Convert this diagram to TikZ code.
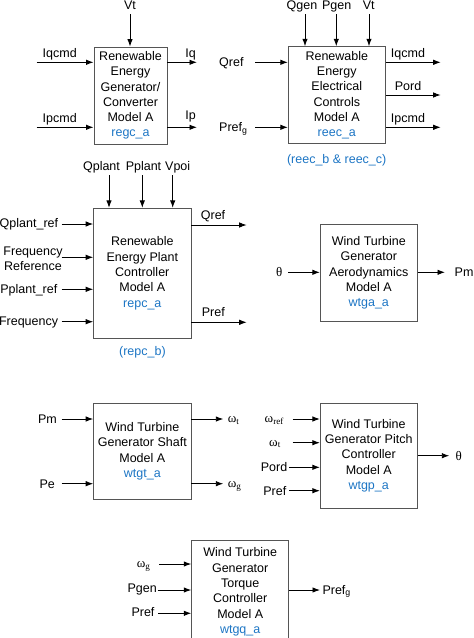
\documentclass[tikz,border=0pt]{standalone}
\usepackage{fontspec}
\setmainfont{Liberation Sans}
\newfontfamily\grk{Liberation Serif}
\usetikzlibrary{arrows.meta}
\definecolor{codeblue}{RGB}{28,117,196}
\definecolor{boxgray}{RGB}{85,85,85}
\begin{document}
\begin{tikzpicture}[x=1pt,y=-1pt,
  blk/.style={draw=boxgray,line width=0.9pt,rectangle,inner sep=0pt,align=center,font=\fontsize{12.5}{15.3}\selectfont},
  arr/.style={line width=0.9pt,-{Latex[length=7.5pt,width=5.5pt]}},
  lbl/.style={inner sep=0pt,anchor=base,font=\fontsize{12.5}{15}\selectfont},
  lblw/.style={lbl,anchor=base west},
  lble/.style={lbl,anchor=base east},
  gk/.style={font=\grk\fontsize{13}{15}\selectfont},
  blu/.style={text=codeblue}]
\useasboundingbox (0,0) rectangle (474,638);
\clip (0,0) rectangle (474,638);

% ---------------- Box 1: regc_a
\node[blk,minimum width=73pt,minimum height=97pt] (b1) at (130.5,95.5)
  {Renewable\\Energy\\Generator/\\Converter\\Model A\\\textcolor{codeblue}{regc\_a}};
\coordinate (b1vt) at (130,14);
\coordinate (b1iq) at (36.7,62.3);
\coordinate (b1ip) at (36.7,127.3);
\coordinate (b1oq) at (197,62.3);
\coordinate (b1op) at (197,127.3);
\draw[arr] (b1vt) -- (b1vt |- b1.north);
\draw[arr] (b1iq) -- (b1iq -| b1.west);
\draw[arr] (b1ip) -- (b1ip -| b1.west);
\draw[arr] (b1.east |- b1oq) -- (b1oq);
\draw[arr] (b1.east |- b1op) -- (b1op);
\node[lbl] (t1vt) at (130,9) {Vt};
\node[lbl] (t1iq) at (59.7,57.5) {Iqcmd};
\node[lbl] (t1ip) at (59.7,122.5) {Ipcmd};
\node[lbl] (t1oq) at (190.7,57.5) {Iq};
\node[lbl] (t1op) at (190.7,119.5) {Ip};

% ---------------- Box 2: reec_a
\node[blk,minimum width=97pt,minimum height=97pt] (b2) at (336.8,95.2)
  {Renewable\\Energy\\Electrical\\Controls\\Model A\\\textcolor{codeblue}{reec\_a}};
\coordinate (b2qg) at (305,14);
\coordinate (b2pg) at (336.3,14);
\coordinate (b2vt) at (369,14);
\coordinate (b2qr) at (255,62.3);
\coordinate (b2pr) at (255,127.3);
\coordinate (b2oq) at (440.7,62.3);
\coordinate (b2od) at (440.7,95);
\coordinate (b2op) at (440.7,127.3);
\draw[arr] (b2qg) -- (b2qg |- b2.north);
\draw[arr] (b2pg) -- (b2pg |- b2.north);
\draw[arr] (b2vt) -- (b2vt |- b2.north);
\draw[arr] (b2qr) -- (b2qr -| b2.west);
\draw[arr] (b2pr) -- (b2pr -| b2.west);
\draw[arr] (b2.east |- b2oq) -- (b2oq);
\draw[arr] (b2.east |- b2od) -- (b2od);
\draw[arr] (b2.east |- b2op) -- (b2op);
\node[lbl] (t2qg) at (302,9) {Qgen};
\node[lbl] (t2pg) at (336.7,9) {Pgen};
\node[lbl] (t2vt) at (368.7,9) {Vt};
\node[lblw] (t2qr) at (219,66.5) {Qref};
\node[lblw] (t2pr) at (219,131.5) {Pref\textsubscript{g}};
\node[lbl] (t2oq) at (408,57.3) {Iqcmd};
\node[lbl] (t2od) at (408,90) {Pord};
\node[lbl] (t2op) at (408,122.3) {Ipcmd};
\node[lbl,blu] (t2v) at (336.7,163.5) {(reec\_b \& reec\_c)};

% ---------------- Box 3: repc_a
\node[blk,minimum width=97.3pt,minimum height=130pt] (b3) at (142.3,273.3)
  {Renewable\\Energy Plant\\Controller\\Model A\\\textcolor{codeblue}{repc\_a}};
\coordinate (b3qp) at (109,175);
\coordinate (b3pp) at (142.3,175);
\coordinate (b3vp) at (172.7,175);
\coordinate (b3qr) at (61.7,224);
\coordinate (b3fr) at (61.7,257.3);
\coordinate (b3pr) at (61.7,289.3);
\coordinate (b3fq) at (61.7,321.7);
\coordinate (b3oq) at (246.7,225);
\coordinate (b3op) at (246.7,322.3);
\draw[arr] (b3qp) -- (b3qp |- b3.north);
\draw[arr] (b3pp) -- (b3pp |- b3.north);
\draw[arr] (b3vp) -- (b3vp |- b3.north);
\draw[arr] (b3qr) -- (b3qr -| b3.west);
\draw[arr] (b3fr) -- (b3fr -| b3.west);
\draw[arr] (b3pr) -- (b3pr -| b3.west);
\draw[arr] (b3fq) -- (b3fq -| b3.west);
\draw[arr] (b3.east |- b3oq) -- (b3oq);
\draw[arr] (b3.east |- b3op) -- (b3op);
\node[lbl] (t3qp) at (101.5,170) {Qplant};
\node[lbl] (t3pp) at (143.5,170) {Pplant};
\node[lbl] (t3vp) at (177.7,170) {Vpoi};
\node[lble] (t3qr) at (58.3,227.7) {Qplant\_ref};
\node[inner sep=0pt,align=center,font=\fontsize{12.5}{15.3}\selectfont] (t3fr) at (33,258.5) {Frequency\\Reference};
\node[lble] (t3pr) at (57.5,293.3) {Pplant\_ref};
\node[lble] (t3fq) at (58.3,325.5) {Frequency};
\node[lblw] (t3oq) at (200.7,219.3) {Qref};
\node[lblw] (t3op) at (201.7,316.7) {Pref};
\node[lbl,blu] (t3v) at (142.4,355) {(repc\_b)};

% ---------------- Box 4: wtga_a
\node[blk,minimum width=97pt,minimum height=96.6pt] (b4) at (368.8,273)
  {Wind Turbine\\Generator\\Aerodynamics\\Model A\\\textcolor{codeblue}{wtga\_a}};
\coordinate (b4th) at (288.3,272.3);
\coordinate (b4pm) at (445,272.3);
\draw[arr] (b4th) -- (b4th -| b4.west);
\draw[arr] (b4.east |- b4pm) -- (b4pm);
\node[lbl,gk] (t4th) at (279.3,276.5) {θ};
\node[lblw] (t4pm) at (454.5,276.6) {Pm};

% ---------------- Box 5: wtgt_a
\node[blk,minimum width=97.3pt,minimum height=96.3pt] (b5) at (142.3,451.2)
  {Wind Turbine\\Generator Shaft\\Model A\\\textcolor{codeblue}{wtgt\_a}};
\coordinate (b5pm) at (61.7,419);
\coordinate (b5pe) at (61.7,483.7);
\coordinate (b5wt) at (223.3,419);
\coordinate (b5wg) at (223.3,483.7);
\draw[arr] (b5pm) -- (b5pm -| b5.west);
\draw[arr] (b5pe) -- (b5pe -| b5.west);
\draw[arr] (b5.east |- b5wt) -- (b5wt);
\draw[arr] (b5.east |- b5wg) -- (b5wg);
\node[lbl] (t5pm) at (47.5,423.3) {Pm};
\node[lbl] (t5pe) at (47.2,488.3) {Pe};
\node[lblw,gk] (t5wt) at (227.7,422.5) {ω\textsubscript{t}};
\node[lblw,gk] (t5wg) at (227.7,487.2) {ω\textsubscript{g}};

% ---------------- Box 6: wtgp_a
\node[blk,minimum width=96.7pt,minimum height=105.3pt] (b6) at (368.7,455.7)
  {Wind Turbine\\Generator Pitch\\Controller\\Model A\\\textcolor{codeblue}{wtgp\_a}};
\coordinate (b6wr) at (292.7,419);
\coordinate (b6wt) at (292.7,442.7);
\coordinate (b6pd) at (289.3,467.3);
\coordinate (b6pr) at (289.3,490.7);
\coordinate (b6th) at (449.3,455.7);
\draw[arr] (b6wr) -- (b6wr -| b6.west);
\draw[arr] (b6wt) -- (b6wt -| b6.west);
\draw[arr] (b6pd) -- (b6pd -| b6.west);
\draw[arr] (b6pr) -- (b6pr -| b6.west);
\draw[arr] (b6.east |- b6th) -- (b6th);
\node[lbl,gk] (t6wr) at (274.3,422.7) {ω\textsubscript{ref}};
\node[lbl,gk] (t6wt) at (275,446) {ω\textsubscript{t}};
\node[lble] (t6pd) at (287.5,471.7) {Pord};
\node[lble] (t6pr) at (286.5,495) {Pref};
\node[lblw,gk] (t6th) at (455.5,460) {θ};

% ---------------- Box 7: wtgq_a
\node[blk,minimum width=97pt,minimum height=100pt,text depth=0pt] (b7) at (240.2,590.7)
  {Wind Turbine\\Generator\\Torque\\Controller\\Model A\\\textcolor{codeblue}{wtgq\_a}};
\coordinate (b7wg) at (159.3,564);
\coordinate (b7pg) at (157.7,590);
\coordinate (b7pr) at (158.3,613.3);
\coordinate (b7og) at (320,590);
\draw[arr] (b7wg) -- (b7wg -| b7.west);
\draw[arr] (b7pg) -- (b7pg -| b7.west);
\draw[arr] (b7pr) -- (b7pr -| b7.west);
\draw[arr] (b7.east |- b7og) -- (b7og);
\node[lbl,gk] (t7wg) at (143.7,567.3) {ω\textsubscript{g}};
\node[lble] (t7pg) at (157,592.7) {Pgen};
\node[lbl] (t7pr) at (143,616) {Pref};
\node[lblw] (t7og) at (322.3,594) {Pref\textsubscript{g}};
\end{tikzpicture}
\end{document}
